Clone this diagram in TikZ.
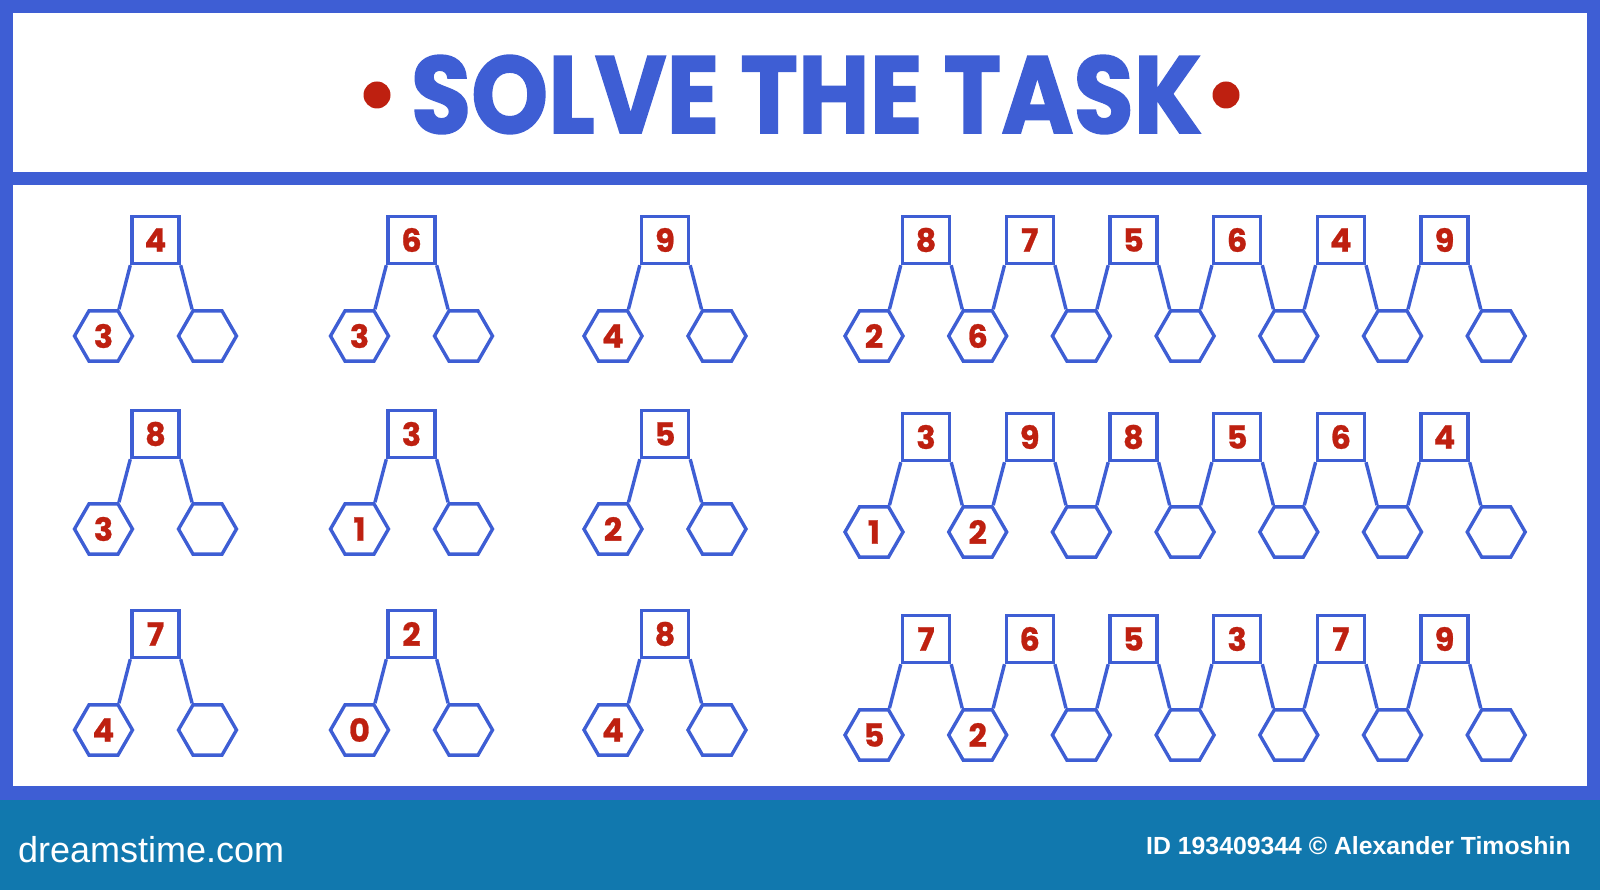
\documentclass[tikz,border=0pt]{standalone}
\usepackage{fontspec}
\usepackage{graphicx}
\usetikzlibrary{shapes.geometric}
\setmainfont{Liberation Sans}
\newfontfamily\titlefont{Poppins}[BoldFeatures={FakeBold=1.5}]
\newfontfamily\digitfont{Poppins}[BoldFeatures={FakeBold=0.8}]
\newfontfamily\footfont{Liberation Sans}
\definecolor{frameblue}{RGB}{62,94,212}
\definecolor{numred}{RGB}{190,32,16}
\definecolor{footteal}{RGB}{17,120,174}
\tikzset{
  sq/.style={draw=frameblue, line width=3.4pt, fill=white, minimum size=47pt, inner sep=0pt,
    text=numred, font=\digitfont\bfseries\fontsize{32}{32}\selectfont},
  hex/.style={regular polygon, regular polygon sides=6, draw=frameblue, line width=3.4pt,
    fill=white, minimum size=58pt, inner sep=0pt,
    text=numred, font=\digitfont\bfseries\fontsize{32}{32}\selectfont},
  link/.style={draw=frameblue, line width=3.4pt},
  reddot/.style={circle, fill=numred, minimum size=27pt, inner sep=0pt}
}
\newcommand{\chainrow}[6]{%
  \foreach \k/\v in {#4}{\node[sq] (c#1s\k) at ({926+103.7*\k},#2) {\v};}
  \node[hex] (c#1h0) at (874,#3) {#5};
  \node[hex] (c#1h1) at (977.7,#3) {#6};
  \foreach \k in {2,...,6}{\node[hex] (c#1h\k) at ({874+103.7*\k},#3) {};}
  \foreach \k [count=\kn from 1] in {0,...,5}{
    \draw[link] (c#1s\k.south west) -- (c#1h\k.60);
    \draw[link] (c#1s\k.south east) -- (c#1h\kn.120);
  }
}
\begin{document}
\begin{tikzpicture}[x=1pt,y=-1pt]
\useasboundingbox (0,0) rectangle (1600,890);
% frame
\fill[frameblue] (0,0) rectangle (1600,800);
\fill[white] (13,13) rectangle (1587,172);
\fill[white] (13,185) rectangle (1587,786);
\fill[footteal] (0,800) rectangle (1600,890);
% title
\node[reddot] (dotL) at (377,95) {};
\node[reddot] (dotR) at (1226,95) {};
\node[inner sep=0pt, text=frameblue] (title) at (806.5,94.5)
  {\resizebox{791pt}{78pt}{\titlefont\bfseries SOLVE THE TASK}};
% single trees
\foreach \cx/\cy/\hy/\t/\l [count=\i] in {
  155.5/240/336/4/3, 411.5/240/336/6/3, 665/240/336/9/4,
  155.5/434/529/8/3, 411.5/434/529/3/1, 665/434/529/5/2,
  155.5/634/730/7/4, 411.5/634/730/2/0, 665/634/730/8/4}{
  \node[sq] (t\i) at (\cx,\cy) {\t};
  \node[hex] (l\i) at (\cx-52,\hy) {\l};
  \node[hex] (r\i) at (\cx+52,\hy) {};
  \draw[link] (t\i.south west) -- (l\i.60);
  \draw[link] (t\i.south east) -- (r\i.120);
}
% chains
\chainrow{A}{240}{336}{0/8,1/7,2/5,3/6,4/4,5/9}{2}{6}
\chainrow{B}{437}{532}{0/3,1/9,2/8,3/5,4/6,5/4}{1}{2}
\chainrow{C}{639}{735}{0/7,1/6,2/5,3/3,4/7,5/9}{5}{2}
% footer
\node[anchor=base west, inner sep=0pt, text=white] (brand) at (18,862)
  {\resizebox{266pt}{!}{\footfont\fontsize{33}{33}\selectfont dreamstime.com}};
\node[anchor=base west, inner sep=0pt, text=white] (credit) at (1146,854)
  {\footfont\bfseries\fontsize{24.8}{24.8}\selectfont ID 193409344 © Alexander Timoshin};
\end{tikzpicture}
\end{document}
